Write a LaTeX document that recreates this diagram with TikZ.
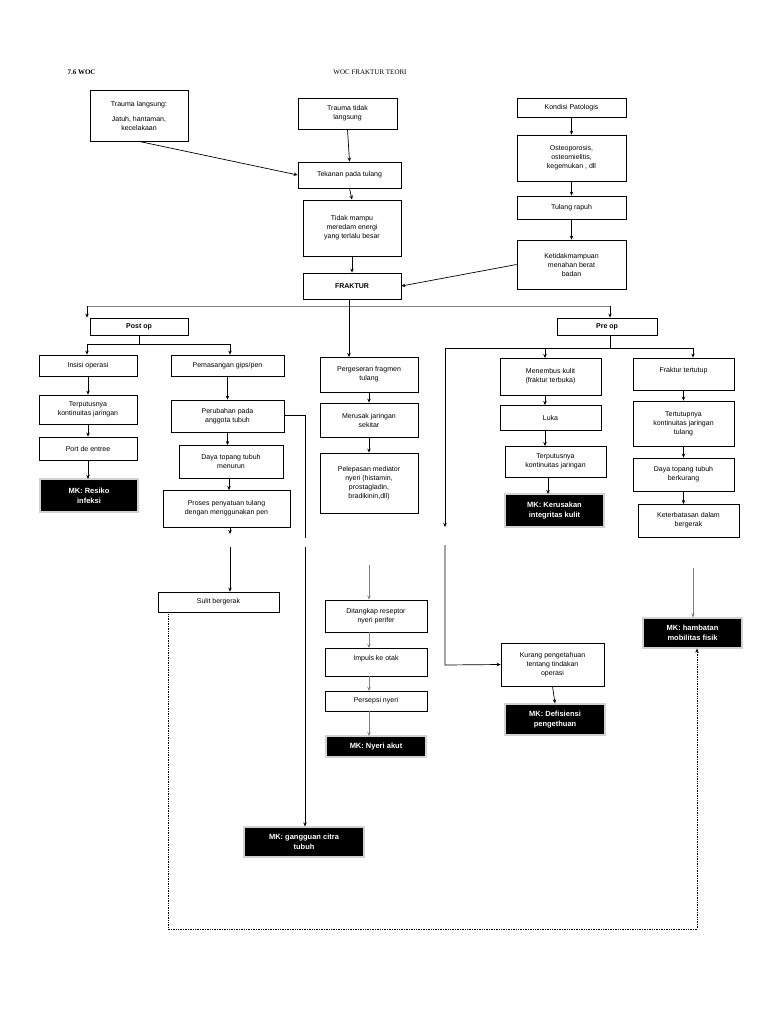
\documentclass[tikz,border=0pt]{standalone}
\usepackage{fontspec}
\setmainfont{Liberation Sans}
\newfontfamily\seriff{Liberation Serif}
\usetikzlibrary{arrows.meta}
\begin{document}
\begin{tikzpicture}[x=1pt,y=-1pt,
  bx/.style={draw,line width=0.8pt,align=center,inner sep=1pt,font=\fontsize{7}{9}\selectfont},
  mk/.style={fill=black,draw=gray!35,line width=1.2pt,text=white,align=center,inner sep=1pt,font=\fontsize{7.5}{10}\selectfont\bfseries},
  ar/.style={-{Stealth[length=4pt,width=3.5pt]},line width=0.7pt},
  ln/.style={line width=0.7pt}]
\useasboundingbox[fill=white] (0,0) rectangle (768,1024);
\node[font=\seriff\fontsize{7}{8}\selectfont\bfseries,anchor=west] (t1) at (64,72) {7.6 WOC};
\node[font=\seriff\fontsize{7}{8}\selectfont] (t2) at (370,72) {WOC FRAKTUR TEORI};
% top
\node[bx,minimum width=98,minimum height=51] (tl) at (139,115.5) {Trauma langsung:\\[6pt]Jatuh, hantaman,\\kecelakaan};
\node[bx,minimum width=99,minimum height=31] (ttl) at (347.5,113.5) {Trauma tidak\\langsung};
\node[bx,minimum width=109,minimum height=19] (kp) at (571.5,107.5) {Kondisi Patologis};
\node[bx,minimum width=103,minimum height=26] (tek) at (349.5,175) {Tekanan pada tulang};
\node[bx,minimum width=98,minimum height=56] (tm) at (352,228) {Tidak mampu\\meredam energi\\yang terlalu besar};
\node[bx,minimum width=109,minimum height=46] (ost) at (571.5,158) {Osteoporosis,\\osteomielitis,\\kegemukan , dll};
\node[bx,minimum width=109,minimum height=23] (tr) at (571.5,207.5) {Tulang rapuh};
\node[bx,minimum width=109,minimum height=49] (ket) at (571.5,264.5) {Ketidakmampuan\\menahan berat\\badan};
\node[bx,minimum width=98,minimum height=26,font=\fontsize{7}{9}\selectfont\bfseries] (fr) at (352,286) {FRAKTUR};
\node[bx,minimum width=98,minimum height=17,font=\fontsize{7}{9}\selectfont\bfseries] (post) at (139,326.5) {Post op};
\node[bx,minimum width=100,minimum height=17,font=\fontsize{7}{9}\selectfont\bfseries] (pre) at (607,326.5) {Pre op};
\draw[ar] (tl.south) -- (tek.west);
\draw[ar] (ttl.south) -- (tek.north);
\draw[ar] (tek.south) -- (tm.north);
\draw[ar] (tm.south) -- (fr.north);
\draw[ar] (kp.south) -- (ost.north);
\draw[ar] (ost.south) -- (tr.north);
\draw[ar] (tr.south) -- (ket.north);
\draw[ar] (ket.west) -- (fr.east);
\coordinate (hl) at (87,306); \coordinate (hr) at (610,306);
\draw[ln,gray] (hl) -- (hr);
\draw[ar] (hl) -- (hl|-post.north);
\draw[ar] (hr) -- (hr|-pre.north);
% post op
\node[bx,minimum width=98,minimum height=21] (ins) at (88,365.5) {Insisi operasi};
\node[bx,minimum width=98,minimum height=29] (tkj) at (88,409.5) {Terputusnya\\kontinuitas jaringan};
\node[bx,minimum width=98,minimum height=23] (port) at (88,448.5) {Port de entree};
\node[mk,minimum width=98,minimum height=33] (mk1) at (89,495.5) {MK: Resiko\\infeksi};
\node[bx,minimum width=113,minimum height=21] (gips) at (227.5,365.5) {Pemasangan gips/pen};
\node[bx,minimum width=113,minimum height=32] (per) at (227.5,416) {Perubahan pada\\anggota tubuh};
\node[bx,minimum width=104,minimum height=33] (dtm) at (231,461.5) {Daya topang tubuh\\menurun};
\node[bx,minimum width=127,minimum height=37] (pros) at (226.5,508.5) {Proses penyatuan tulang\\dengan menggunakan pen};
\node[bx,minimum width=121,minimum height=20] (sb) at (218.5,602) {Sulit bergerak};
\node[mk,minimum width=120,minimum height=30] (mkc) at (304,842) {MK: gangguan citra\\tubuh};
\coordinate (pl) at (87,344); \coordinate (pr) at (230,344);
\draw[ln] (139,335) -- (139,344);
\draw[ln] (pl) -- (pr);
\draw[ar] (pl) -- (pl|-ins.north);
\draw[ar] (pr) -- (pr|-gips.north);
\draw[ar] (ins.south) -- (tkj.north);
\draw[ar] (tkj.south) -- (port.north);
\draw[ar] (port.south) -- (88,479);
\draw[ar] (gips.south) -- (per.north-|gips.south);
\draw[ar] (227.5,432) -- (227.5,445);
\draw[ar] (229,478) -- (229,490);
\coordinate (p1) at (230,534); \coordinate (p2) at (230,547);
\draw[ar] (230,527) -- (p1);
\draw[ar] (p2) -- (p2|-sb.north);
\coordinate (c1) at (305,415); \coordinate (c2) at (305,538); \coordinate (c3) at (305,547);
\draw[ln] (per.east|-c1) -- (c1) -- (c2);
\draw[ar] (c3) -- (c3|-mkc.north);
% middle
\node[bx,minimum width=98,minimum height=35] (perg) at (369,374.5) {Pergeseran fragmen\\tulang};
\node[bx,minimum width=98,minimum height=34] (mer) at (369,420) {Merusak jaringan\\sekitar};
\node[bx,minimum width=98,minimum height=60] (pel) at (369,483) {Pelepasan mediator\\nyeri (histamin,\\prostagladin,\\bradikinin,dll)};
\node[bx,minimum width=102,minimum height=32] (dit) at (376,616) {Ditangkap reseptor\\nyeri perifer};
\node[bx,minimum width=102,minimum height=28] (imp) at (376,662) {Impuls ke otak\\~};
\node[bx,minimum width=102,minimum height=20] (pers) at (376,701) {Persepsi nyeri};
\node[mk,minimum width=100,minimum height=21] (mkn) at (376,746.5) {MK: Nyeri akut};
\draw[ar] (fr.south-|349,0) -- (349,357);
\draw[ar] (perg.south) -- (mer.north);
\draw[ar] (mer.south) -- (pel.north);
\coordinate (m1) at (369,565);
\draw[ar,gray] (m1) -- (m1|-dit.north);
\draw[ar,gray] (369,632) -- (369,648);
\draw[ar,gray] (369,676) -- (369,691);
\draw[ar,gray] (369,711) -- (369,736);
% pre op
\node[bx,minimum width=101,minimum height=37] (men) at (550.5,376.5) {Menembus kulit\\(fraktur terbuka)};
\node[bx,minimum width=101,minimum height=25] (luka) at (550.5,417.5) {Luka};
\node[bx,minimum width=101,minimum height=31] (tkj2) at (555.5,461.5) {Terputusnya\\kontinuitas jaringan};
\node[mk,minimum width=99,minimum height=33] (mkk) at (554.5,510.5) {MK: Kerusakan\\integritas kulit};
\node[bx,minimum width=101,minimum height=32] (ft) at (683.5,374) {Fraktur tertutup\\~};
\node[bx,minimum width=101,minimum height=45] (tkt) at (683.5,423.5) {Tertutupnya\\kontinuitas jaringan\\tulang};
\node[bx,minimum width=101,minimum height=33] (dtb) at (683.5,474.5) {Daya topang tubuh\\berkurang};
\node[bx,minimum width=101,minimum height=33] (keb) at (688.5,520.5) {Keterbatasan dalam\\bergerak};
\node[mk,minimum width=99,minimum height=30] (mkh) at (692.5,633) {MK: hambatan\\mobilitas fisik};
\node[bx,minimum width=103,minimum height=43] (kur) at (552.5,664.5) {Kurang pengetahuan\\tentang tindakan\\operasi};
\node[mk,minimum width=100,minimum height=31] (mkd) at (555,719.5) {MK: Defisiensi\\pengethuan};
\coordinate (ql) at (445,348); \coordinate (qr) at (693,348);
\draw[ln] (610,335) -- (610,348);
\draw[ln] (ql) -- (qr);
\draw[ar] (545,348) -- (545,358);
\draw[ar] (qr) -- (qr|-ft.north);
\coordinate (q1) at (445,527); \coordinate (q2) at (445,545);
\draw[ar] (ql) -- (q1);
\draw[ar] (q2) -- (445,665) -- (kur.west);
\draw[ar] (545,395) -- (545,405);
\draw[ar] (545,430) -- (545,446);
\draw[ar] (548,477) -- (548,494);
\draw[ar] (ft.south) -- (tkt.north);
\draw[ar] (tkt.south) -- (dtb.north);
\draw[ar] (683.5,491) -- (683.5,504);
\coordinate (h1) at (693,568);
\draw[ar,gray] (h1) -- (h1|-mkh.north);
\draw[ar] (kur.south) -- (mkd.north);
% dotted
\coordinate (d1) at (168,929); \coordinate (d2) at (697,929);
\draw[ar,densely dotted] (sb.south west-|168,0) -- (d1) -- (d2) -- (d2|-mkh.south);
\end{tikzpicture}
\end{document}
